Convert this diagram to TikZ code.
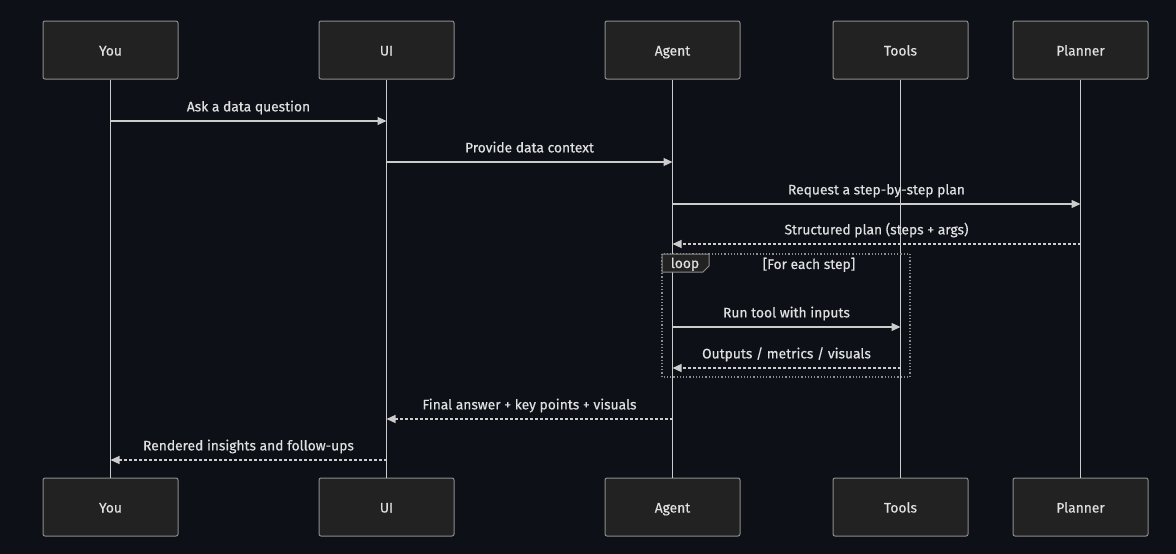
\documentclass[tikz,border=0pt]{standalone}
\usepackage{fontspec}
\setmainfont{Fira Sans}[FakeBold=0.4]
\usetikzlibrary{arrows.meta}
\definecolor{bg}{HTML}{0D1117}
\definecolor{boxfill}{HTML}{222222}
\definecolor{boxline}{HTML}{8C8C8C}
\definecolor{wire}{HTML}{CCCCCC}
\definecolor{txt}{HTML}{E0E0E0}
\tikzset{
  actor/.style={draw=boxline, fill=boxfill, line width=1pt, rounded corners=2pt,
    minimum width=135pt, minimum height=58pt, inner sep=0pt, text=txt,
    text height=14pt, text depth=3pt, font=\fontsize{13.8pt}{15pt}\selectfont},
  life/.style={draw=wire, line width=1.4pt},
  msg/.style={draw=wire, line width=1.2pt, -{Triangle[length=9pt,width=8pt]}},
  reply/.style={msg, dash pattern=on 3pt off 2pt},
  lbl/.style={text=txt, font=\fontsize{13.8pt}{15pt}\selectfont, inner sep=0pt,
    text height=10pt, text depth=3pt},
}
\begin{document}
\begin{tikzpicture}[x=1pt,y=-1pt]
\useasboundingbox[fill=bg] (0,0) rectangle (1176,554);
% actors top
\node[actor] (youT) at (110.5,50) {You};
\node[actor] (uiT) at (386.5,50) {UI};
\node[actor] (agT) at (672.5,50) {Agent};
\node[actor] (toT) at (900.5,50) {Tools};
\node[actor] (plT) at (1080.5,50) {Planner};
% actors bottom
\node[actor] (youB) at (110.5,507) {You};
\node[actor] (uiB) at (386.5,507) {UI};
\node[actor] (agB) at (672.5,507) {Agent};
\node[actor] (toB) at (900.5,507) {Tools};
\node[actor] (plB) at (1080.5,507) {Planner};
% lifelines
\foreach \a in {you,ui,ag,to,pl}{\draw[life] (\a T.south) -- (\a B.north);}
% message anchor coordinates
\foreach \a/\x in {you/110.5,ui/386.5,ag/672.5,to/900.5,pl/1080.5}{
  \foreach \n/\y in {1/121,2/162,3/204,4/244,5/327,6/368,7/419,8/460}{
    \coordinate (\a\n) at (\x,\y);
  }
}
% loop frame
\draw[boxline, line width=1.2pt, dotted] (662,254) rectangle (910,377);
\draw[boxline, fill=boxfill, line width=1pt] (662,254) -- (709,254) -- (709,266) -- (703,272) -- (662,272) -- cycle;
\node[lbl] (looplbl) at (685,264.5) {loop};
\node[lbl] (cond) at (809,265.5) {[For each step]};
% messages
\draw[msg] (you1) -- node[lbl, above=6pt] (m1) {Ask a data question} (ui1);
\draw[msg] (ui2) -- node[lbl, above=6pt] (m2) {Provide data context} (ag2);
\draw[msg] (ag3) -- node[lbl, above=6pt] (m3) {Request a step-by-step plan} (pl3);
\draw[reply] (pl4) -- node[lbl, above=6pt] (m4) {Structured plan (steps + args)} (ag4);
\draw[msg] (ag5) -- node[lbl, above=6pt] (m5) {Run tool with inputs} (to5);
\draw[reply] (to6) -- node[lbl, above=6pt] (m6) {Outputs / metrics / visuals} (ag6);
\draw[reply] (ag7) -- node[lbl, above=6pt] (m7) {Final answer + key points + visuals} (ui7);
\draw[reply] (ui8) -- node[lbl, above=6pt] (m8) {Rendered insights and follow-ups} (you8);
\end{tikzpicture}
\end{document}
